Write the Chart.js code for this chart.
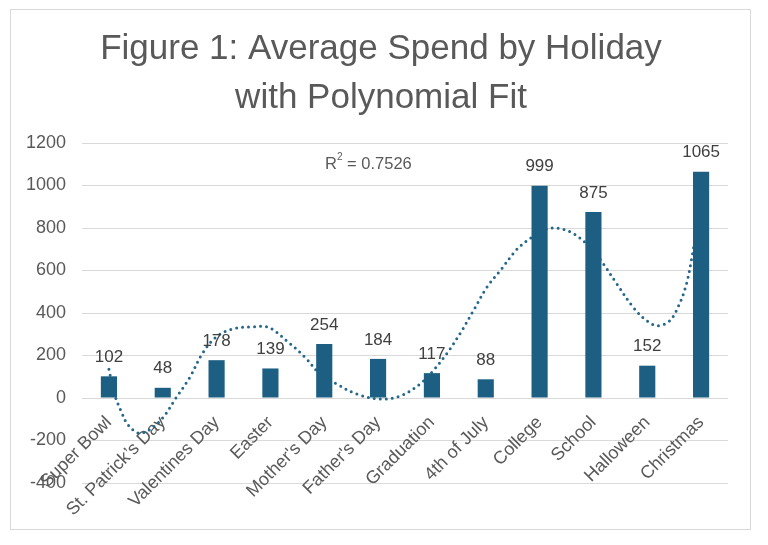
<!DOCTYPE html>
<html>
<head>
<meta charset="utf-8">
<script src="https://cdn.jsdelivr.net/npm/chart.js@4.4.0/dist/chart.umd.min.js"></script>
<style>
  html, body { margin: 0; padding: 0; background: #fff; }
  #wrap { position: relative; width: 768px; height: 545px; }
  #frame { position: absolute; left: 10px; top: 9px; width: 741px; height: 521px; border: 1.5px solid #d9d9d9; box-sizing: border-box; pointer-events: none; }
</style>
</head>
<body>
<div id="wrap">
  <canvas id="chart" width="768" height="545"></canvas>
  <div id="frame"></div>
</div>
<script>
    'use strict';

    var holidays = ["Super Bowl", "St. Patrick\u2019s Day", "Valentines Day", "Easter", "Mother's Day", "Father's Day",
        "Graduation", "4th of July", "College", "School", "Halloween", "Christmas"];
    var spend = [102, 48, 178, 139, 254, 184, 117, 88, 999, 875, 152, 1065];

    // polynomial trendline (x = category index)
    var trendX = [0, 0.1, 0.24, 0.35, 0.55, 0.75, 1.0, 1.25, 1.5, 1.73, 1.98, 2.3, 2.67, 2.97, 3.34, 3.65, 3.92, 4.23,
        4.6, 5.04, 5.41, 5.78, 6.02, 6.27, 6.52, 6.77, 7.02, 7.27, 7.58, 7.82, 8.06, 8.32, 8.62, 8.94, 9.18, 9.43,
        9.74, 9.99, 10.2, 10.42, 10.6, 10.73, 10.83, 10.89, 11];
    var trendY = [135, 20, -70, -125, -165, -150, -93, 2, 96, 207, 285, 325, 335, 332, 261, 190, 113, 66,
        19, -5, 9, 66, 128, 207, 302, 411, 521, 600, 700, 750, 790, 800, 775, 710, 633, 539,
        427, 364, 340, 364, 444, 539, 663, 760, 1000];
    var yTicks = [-400, -200, 0, 200, 400, 600, 800, 1000, 1200];
    var rSquared = "0.7526";

    var barColor = '#1c5f82';
    var textGrey = '#595959';
    var labelFont = '"Liberation Sans", Arial, sans-serif';

    var trendPoints = trendX.map(function (x, i) {
        return { x: x, y: trendY[i] };
    });

    var valueLabels = {
        id: 'valueLabels',
        afterDatasetsDraw: function (chart) {
            var ctx = chart.ctx;
            var meta = chart.getDatasetMeta(0);
            ctx.save();
            ctx.font = '17px ' + labelFont;
            ctx.fillStyle = '#404040';
            ctx.textAlign = 'center';
            ctx.textBaseline = 'middle';
            meta.data.forEach(function (bar, i) {
                ctx.fillText(String(spend[i]), bar.x, bar.y - 19);
            });

            // R² = ... note, anchored in data space
            var cx = chart.scales.xt.getPixelForValue(4.82);
            var cy = chart.scales.y.getPixelForValue(1100);
            ctx.fillStyle = textGrey;
            ctx.textAlign = 'left';
            ctx.font = '16.5px ' + labelFont;
            var wR = ctx.measureText('R').width;
            var rest = ' = ' + rSquared;
            var wRest = ctx.measureText(rest).width;
            ctx.font = '10px ' + labelFont;
            var w2 = ctx.measureText('2').width;
            var x0 = cx - (wR + w2 + wRest) / 2;
            ctx.font = '16.5px ' + labelFont;
            ctx.fillText('R', x0, cy);
            ctx.fillText(rest, x0 + wR + w2, cy);
            ctx.font = '10px ' + labelFont;
            ctx.fillText('2', x0 + wR, cy - 7);
            ctx.restore();
        }
    };

    var ctx = document.getElementById('chart').getContext('2d');

    var myChart = new Chart(ctx, {
        type: 'bar',
        data: {
            labels: holidays,
            datasets: [{
                type: 'bar',
                data: spend,
                backgroundColor: barColor,
                barPercentage: 0.3,
                categoryPercentage: 1,
                grouped: false,
                xAxisID: 'x',
                order: 1
            }, {
                type: 'line',
                data: trendPoints,
                xAxisID: 'xt',
                borderColor: '#23678b',
                borderWidth: 3,
                borderDash: [0, 6],
                borderCapStyle: 'round',
                pointRadius: 0,
                tension: 0.35,
                fill: false,
                order: 2
            }]
        },
        options: {
            responsive: false,
            animation: false,
            layout: {
                padding: { left: 0, right: 6, top: 0, bottom: 62 }
            },
            plugins: {
                legend: { display: false },
                tooltip: { enabled: false },
                title: {
                    display: true,
                    text: ['Figure 1: Average Spend by Holiday', 'with Polynomial Fit'],
                    color: textGrey,
                    font: { size: 35, weight: 'normal', family: labelFont, lineHeight: 1.4 },
                    padding: { top: 25, bottom: 20 }
                }
            },
            scales: {
                x: {
                    type: 'category',
                    position: { y: 0 },
                    offset: true,
                    grid: { display: false, drawTicks: false },
                    border: { display: false },
                    ticks: {
                        minRotation: 45,
                        maxRotation: 45,
                        autoSkip: false,
                        padding: 14,
                        color: textGrey,
                        font: { size: 18, family: labelFont }
                    }
                },
                xt: {
                    type: 'linear',
                    display: false,
                    offset: false,
                    min: -0.5,
                    max: 11.5
                },
                y: {
                    min: yTicks[0],
                    max: yTicks[yTicks.length - 1],
                    afterBuildTicks: function (scale) {
                        scale.ticks = yTicks.map(function (v) { return { value: v }; });
                    },
                    afterFit: function (scale) {
                        scale.width = 82;
                    },
                    grid: { color: '#d9d9d9', lineWidth: 1, drawTicks: false },
                    border: { display: false },
                    ticks: {
                        padding: 16,
                        color: textGrey,
                        font: { size: 18, family: labelFont },
                        callback: function (value) {
                            return String(value);
                        }
                    }
                },
                // empty right-hand axis that keeps the plot off the right edge
                yr: {
                    position: 'right',
                    grid: { display: false, drawTicks: false },
                    border: { display: false },
                    ticks: { display: false },
                    afterFit: function (scale) {
                        scale.width = 34;
                    }
                }
            }
        },
        plugins: [valueLabels]
    });
</script>
</body>
</html>
